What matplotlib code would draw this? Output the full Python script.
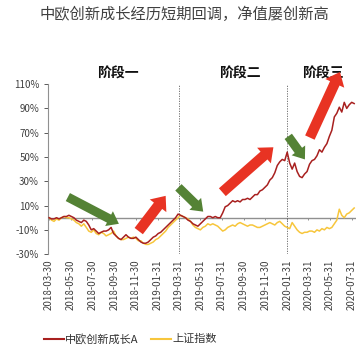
import numpy as np
import pandas as pd
import matplotlib
matplotlib.use('Agg')
import matplotlib.pyplot as plt
from matplotlib.lines import Line2D

plt.rcParams['font.family'] = ['Noto Sans CJK SC', 'DejaVu Sans']

# weekly cumulative returns (%)
start = '2018-03-30'
fund = [0, -1, -1, 0, -1, 0, 1, 1, 2, 1,
        0, -2, -3, -4, -2, -3, -6, -10, -9, -11,
        -13, -12, -11, -11, -10, -8, -13, -15, -17, -18,
        -16, -14, -16, -17, -17, -16, -18, -20, -21, -21,
        -20, -18, -16, -15, -13, -12, -10, -8, -6, -4,
        -2, 0, 3, 2, 1, 0, -2, -3, -5, -6,
        -7, -5, -3, -1, 1, 1, 0, 1, 0, 0,
        4, 9, 10, 12, 14, 13, 14, 13, 15, 15,
        16, 15, 17, 19, 19, 22, 23, 25, 27, 31,
        33, 37, 43, 46, 48, 47, 54, 45, 40, 45,
        38, 34, 33, 36, 38, 44, 47, 48, 51, 56,
        54, 58, 61, 67, 72, 83, 86, 91, 87, 95,
        90, 93, 95, 94]
index = [0, -2, -3, -1, -2, 0, 1, 0, 0, -1,
         -2, -4, -5, -7, -5, -8, -11, -12, -10, -13,
         -14, -12, -13, -15, -14, -13, -11, -15, -17, -18,
         -18, -17, -16, -17, -16, -17, -19, -19, -21, -22,
         -22, -21, -20, -18, -17, -15, -13, -11, -8, -6,
         -4, -2, 0, 2, 1, 0, -1, -3, -6, -8,
         -9, -10, -8, -7, -5, -6, -5, -6, -7, -9,
         -11, -10, -8, -7, -6, -7, -5, -4, -5, -6,
         -7, -6, -6, -7, -8, -8, -7, -6, -5, -4,
         -5, -6, -4, -3, -5, -7, -8, -9, -4, -7,
         -10, -12, -13, -12, -12, -11, -11, -12, -10, -11,
         -9, -10, -8, -9, -8, -5, -2, 7, 2, 0,
         3, 4, 6, 8]

tick_dates = ['2018-03-30', '2018-05-30', '2018-07-30', '2018-09-30', '2018-11-30',
              '2019-01-31', '2019-03-31', '2019-05-31', '2019-07-31', '2019-09-30',
              '2019-11-30', '2020-01-31', '2020-03-31', '2020-05-31', '2020-07-31']
phase_lines = ['2019-03-31', '2020-01-31']
phases = [('阶段一', '2018-10-10'), ('阶段二', '2019-09-20'), ('阶段三', '2020-05-10')]

# (start date, start value, end date, end value, colour)
arrows = [('2018-05-22', 17, '2018-10-13', -5, 'g'),
          ('2018-12-08', -11, '2019-02-22', 18, 'r'),
          ('2019-03-30', 25, '2019-06-08', 5, 'g'),
          ('2019-08-01', 21, '2019-12-23', 58, 'r'),
          ('2020-02-03', 67, '2020-03-21', 48, 'g'),
          ('2020-04-04', 66, '2020-06-28', 120, 'r')]

RED = '#a8201f'
YELLOW = '#f7c63c'
GREEN = '#548235'
ARROW_RED = '#e83323'

dates = pd.date_range(start, periods=len(fund), freq='7D')

fig = plt.figure(figsize=(3.61, 3.52), dpi=100)
ax = fig.add_axes([0.133, 0.278, 0.853, 0.483])

ax.plot(dates, fund, color=RED, lw=1.1, zorder=3)
ax.plot(dates, index, color=YELLOW, lw=1.1, zorder=2)

ax.set_ylim(-30, 110)
ax.set_yticks(np.arange(-30, 111, 20))
ax.set_yticklabels([f'{v}%' for v in range(-30, 111, 20)])
ax.set_xlim(pd.Timestamp('2018-03-27'), pd.Timestamp('2020-08-12'))
ticks = pd.to_datetime(tick_dates)
ax.set_xticks(ticks)
ax.set_xticklabels(tick_dates, rotation=90)
ax.tick_params(axis='x', length=0, labelsize=7, colors='#404040', pad=4)
ax.tick_params(axis='y', length=3, labelsize=7, colors='#404040', width=0.6)

for s in ['top', 'right', 'bottom']:
    ax.spines[s].set_visible(False)
ax.spines['left'].set_color('#909090')
ax.spines['left'].set_linewidth(0.8)

# zero line with small ticks
ax.axhline(0, color='#909090', lw=1.0, zorder=1)
ax.vlines(ticks, -1.8, 0, color='#909090', lw=0.7, zorder=1)

for d in phase_lines:
    ax.axvline(pd.Timestamp(d), color='#606060', lw=0.6, ls=(0, (1.5, 1.5)), zorder=1)

for name, d in phases:
    ax.text(pd.Timestamp(d), 113, name, ha='center', va='bottom', fontsize=10,
            fontweight='bold', color='#111111', clip_on=False)

for d0, v0, d1, v1, c in arrows:
    if c == 'g':
        col, style = GREEN, 'simple,head_width=1.2,head_length=0.8,tail_width=0.65'
    else:
        col, style = ARROW_RED, 'simple,head_width=1.5,head_length=0.9,tail_width=0.75'
    ax.annotate('', xy=(pd.Timestamp(d1), v1), xytext=(pd.Timestamp(d0), v0),
                arrowprops=dict(arrowstyle=style, color=col, lw=0, shrinkA=0, shrinkB=0,
                                mutation_scale=10),
                annotation_clip=False, zorder=5)

fig.text(0.51, 0.96, '中欧创新成长经历短期回调，净值屡创新高', ha='center', va='center',
         fontsize=11, color='#404040')

handles = [Line2D([], [], color=RED, lw=1.5), Line2D([], [], color=YELLOW, lw=1.5)]
fig.legend(handles, ['中欧创新成长A', '上证指数'], loc='center left',
           bbox_to_anchor=(0.095, 0.037), ncol=2, frameon=False, fontsize=8,
           handlelength=1.8, handletextpad=0.1, columnspacing=1.1, labelcolor='#333333')

fig.savefig('out.png', dpi=100)
